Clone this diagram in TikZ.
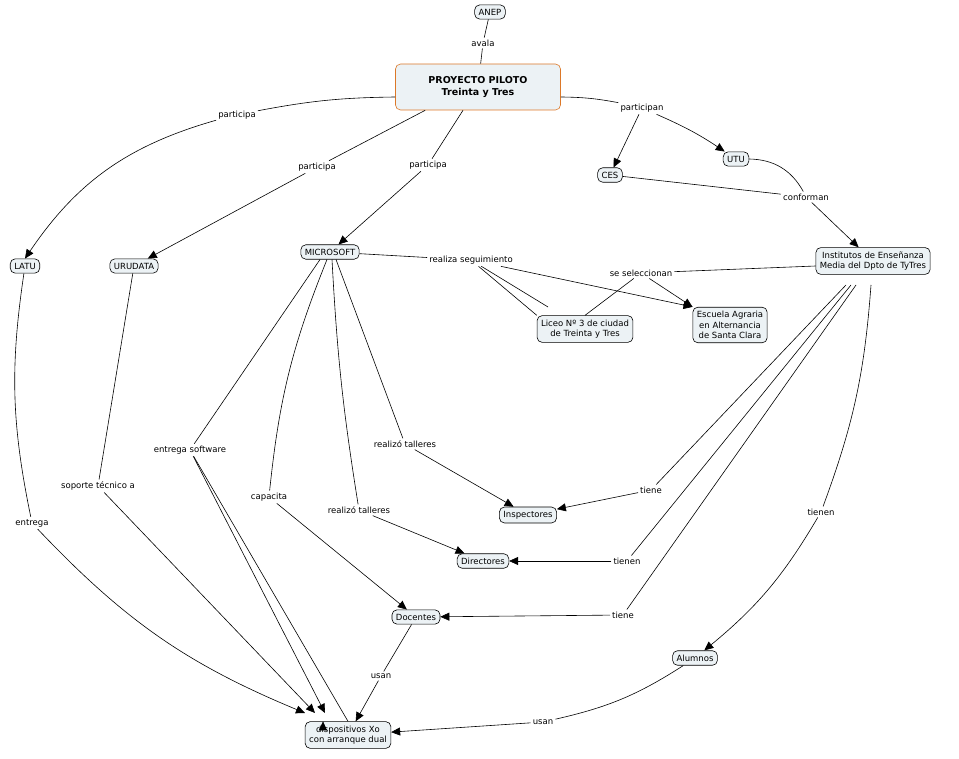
\documentclass[tikz,border=0pt]{standalone}
\usepackage{fontspec}
\setmainfont{DejaVu Sans}
\usetikzlibrary{arrows.meta}
\begin{document}
\begin{tikzpicture}[x=1pt,y=-1pt,
 c/.style={draw=black,fill={rgb,255:red,236;green,242;blue,245},rounded corners=5pt,align=center,font=\fontsize{8.5}{10.5}\selectfont,inner sep=4pt,line width=0.6pt},
 l/.style={font=\fontsize{8.5}{10.5}\selectfont,inner sep=2pt},
 ln/.style={line width=0.6pt},
 ar/.style={line width=0.6pt,-{Triangle[length=9pt,width=8pt]}}]
\useasboundingbox (0,0) rectangle (959,759);
\node[c] (anep) at (490,12) {ANEP};
\node[c,draw={rgb,255:red,220;green,120;blue,40},font=\fontsize{9.5}{12}\selectfont\bfseries,minimum width=165,minimum height=46] (pp) at (478,87) {PROYECTO PILOTO\\Treinta y Tres};
\node[c] (ces) at (610,175) {CES};
\node[c] (utu) at (736,159) {UTU};
\node[c] (inst) at (873,261) {Institutos de Enseñanza\\Media del Dpto de TyTres};
\node[c] (liceo) at (585,329) {Liceo Nº 3 de ciudad\\de Treinta y Tres};
\node[c] (esc) at (730,325) {Escuela Agraria\\en Alternancia\\de Santa Clara};
\node[c] (ms) at (330,252) {MICROSOFT};
\node[c] (latu) at (25,266) {LATU};
\node[c] (uru) at (134,266) {URUDATA};
\node[c] (insp) at (528,515) {Inspectores};
\node[c] (dir) at (483,561) {Directores};
\node[c] (doc) at (416,617) {Docentes};
\node[c] (alu) at (695,658) {Alumnos};
\node[c] (xo) at (348,735) {dispositivos Xo\\con arranque dual};

\node[l] (avala) at (483,43) {avala};
\node[l] (p1) at (237,115) {participa};
\node[l] (p2) at (317,167) {participa};
\node[l] (p3) at (428,165) {participa};
\node[l] (pn) at (642,108) {participan};
\node[l] (conf) at (806,197) {conforman};
\node[l] (sel) at (641,273) {se seleccionan};
\node[l] (rs) at (471,260) {realiza seguimiento};
\node[l] (es) at (190,450) {entrega software};
\node[l] (sta) at (98,486) {soporte técnico a};
\node[l] (ent) at (32,523) {entrega};
\node[l] (cap) at (269,497) {capacita};
\node[l] (rt1) at (405,444) {realizó talleres};
\node[l] (rt2) at (359,510) {realizó talleres};
\node[l] (t1) at (651,490) {tiene};
\node[l] (t2) at (627,561) {tienen};
\node[l] (t3) at (623,615) {tiene};
\node[l] (t4) at (821,512) {tienen};
\node[l] (u1) at (381,676) {usan};
\node[l] (u2) at (543,722) {usan};

\draw[ln] (anep) -- (avala); \draw[ln] (avala) -- (pp);
\draw[ln] (pp.west) ++(0,10) to[bend right=5] (p1);
\draw[ar] (p1) to[bend right=20] (latu.north);
\draw[ln] (pp.south west) ++(30,0) -- (p2); \draw[ar] (p2) -- (uru);
\draw[ln] (pp.south) ++(-15,0) -- (p3); \draw[ar] (p3) -- (ms);
\draw[ln] (pp.east) ++(0,10) to[bend left=5] (pn);
\draw[ar] (pn) -- (ces); \draw[ar] (pn) to[bend left=5] (utu);
\draw[ln] (ces) -- (conf); \draw[ln] (utu.east) to[bend left=30] (conf);
\draw[ar] (conf) -- (inst);
\draw[ln] (inst.west) ++(0,5) -- (sel);
\draw[ln] (sel) -- (liceo.north); \draw[ar] (sel) -- (esc.north west);
\draw[ln] (ms) -- (rs); \draw[ln] (rs) -- (liceo.north west) ++(30,0);
\draw[ln] (rs) -- (548,307); \draw[ar] (rs) -- (esc.north west);
\draw[ln] (ms.south) ++(-10,0) -- (es); \draw[ar] (es) -- (xo.north) ++(-25,0);
\draw[ar] (es) -- (325,713);
\draw[ln] (ms.south) ++(-3,0) to[bend right=8] (cap); \draw[ar] (cap) -- (doc);
\draw[ln] (ms.south) ++(2,0) to[bend right=3] (rt2); \draw[ar] (rt2) -- (dir);
\draw[ln] (ms.south) ++(6,0) -- (rt1); \draw[ar] (rt1) -- (insp);
\draw[ln] (uru) -- (sta); \draw[ar] (sta) -- (315,713);
\draw[ln] (latu) to[bend right=10] (ent); \draw[ar] (ent) to[bend right=12] (305,713);
\draw[ln] (846,285) -- (t1); \draw[ar] (t1) -- (insp);
\draw[ln] (851,285) -- (t2); \draw[ar] (t2) -- (dir);
\draw[ln] (856,285) -- (t3); \draw[ar] (t3) -- (doc);
\draw[ln] (871,285) to[bend left=8] (t4); \draw[ar] (t4) to[bend left=10] (alu);
\draw[ln] (doc) -- (u1); \draw[ar] (u1) -- (xo);
\draw[ln] (alu) to[bend left=10] (u2); \draw[ar] (u2) -- (xo);
\end{tikzpicture}
\end{document}
